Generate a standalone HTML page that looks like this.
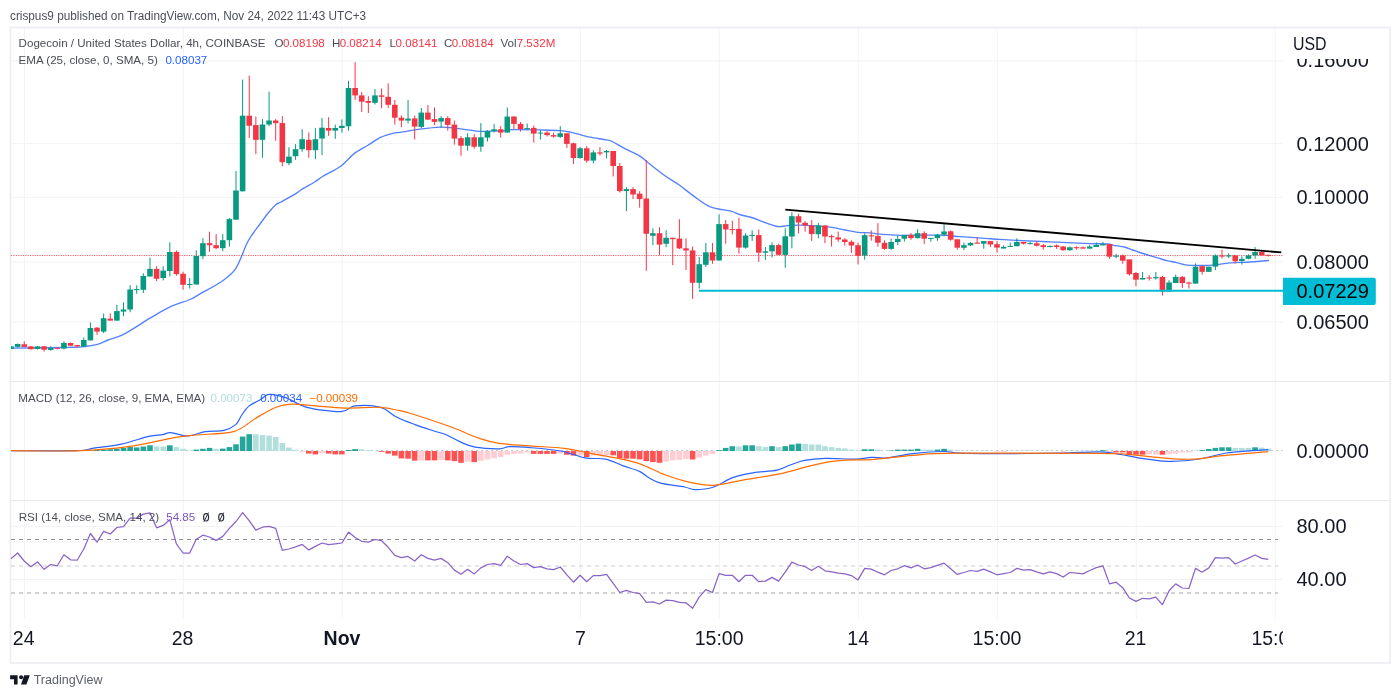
<!DOCTYPE html>
<html><head><meta charset="utf-8"><style>
html,body{margin:0;padding:0;background:#fff;width:1400px;height:698px;overflow:hidden}
body{position:relative;font-family:"Liberation Sans",sans-serif}
#tx{position:absolute;left:0;top:0;width:1400px;height:698px;will-change:transform}
</style></head><body>
<svg width="1400" height="698" viewBox="0 0 1400 698" style="position:absolute;left:0;top:0"><defs><clipPath id="cp"><rect x="11" y="28" width="1271.5" height="353"/></clipPath><clipPath id="cm"><rect x="11" y="382" width="1271.5" height="118"/></clipPath></defs><rect x="10.5" y="27.5" width="1379.5" height="635.5" fill="none" stroke="#eaecf1" stroke-width="1.5"/><line x1="24.535" y1="28" x2="24.535" y2="618.5" stroke="#f2f3f6" stroke-width="1"/><line x1="183.35500000000002" y1="28" x2="183.35500000000002" y2="618.5" stroke="#f2f3f6" stroke-width="1"/><line x1="342.175" y1="28" x2="342.175" y2="618.5" stroke="#f2f3f6" stroke-width="1"/><line x1="580.405" y1="28" x2="580.405" y2="618.5" stroke="#f2f3f6" stroke-width="1"/><line x1="719.3725" y1="28" x2="719.3725" y2="618.5" stroke="#f2f3f6" stroke-width="1"/><line x1="858.3399999999999" y1="28" x2="858.3399999999999" y2="618.5" stroke="#f2f3f6" stroke-width="1"/><line x1="997.3074999999999" y1="28" x2="997.3074999999999" y2="618.5" stroke="#f2f3f6" stroke-width="1"/><line x1="1136.2749999999999" y1="28" x2="1136.2749999999999" y2="618.5" stroke="#f2f3f6" stroke-width="1"/><line x1="1275.2424999999998" y1="28" x2="1275.2424999999998" y2="618.5" stroke="#f2f3f6" stroke-width="1"/><line x1="11" y1="61" x2="1282.5" y2="61" stroke="#f2f3f6" stroke-width="1"/><line x1="11" y1="143.6" x2="1282.5" y2="143.6" stroke="#f2f3f6" stroke-width="1"/><line x1="11" y1="197.3" x2="1282.5" y2="197.3" stroke="#f2f3f6" stroke-width="1"/><line x1="11" y1="261.9" x2="1282.5" y2="261.9" stroke="#f2f3f6" stroke-width="1"/><line x1="11" y1="322" x2="1282.5" y2="322" stroke="#f2f3f6" stroke-width="1"/><line x1="11" y1="526.5" x2="1282.5" y2="526.5" stroke="#f2f3f6" stroke-width="1"/><line x1="11" y1="579.5" x2="1282.5" y2="579.5" stroke="#f2f3f6" stroke-width="1"/><line x1="11" y1="381.5" x2="1389.5" y2="381.5" stroke="#e6e8ee" stroke-width="1.2"/><line x1="11" y1="500.5" x2="1389.5" y2="500.5" stroke="#e6e8ee" stroke-width="1.2"/><line x1="11" y1="255.5" x2="1282.5" y2="255.5" stroke="#f23645" stroke-width="1" stroke-dasharray="1.2 1.17" opacity="0.8"/><g clip-path="url(#cp)"><path d="M11.0,348.2 C20.5,348.1 56.8,347.5 68.0,347.3 C79.2,347.1 73.6,347.6 78.5,347.1 C83.4,346.6 92.5,345.5 97.4,344.3 C102.3,343.1 103.7,341.6 108.0,340.0 C112.3,338.4 116.0,338.3 123.0,334.7 C130.0,331.1 142.2,322.8 150.0,318.2 C157.8,313.6 163.3,310.0 170.0,306.9 C176.7,303.8 185.0,301.7 190.0,299.5 C195.0,297.3 194.7,296.9 200.0,293.8 C205.3,290.8 216.0,285.5 222.0,281.2 C228.0,276.9 231.7,274.9 236.0,268.2 C240.3,261.5 244.0,248.6 248.0,241.2 C252.0,233.8 256.5,228.9 260.0,224.0 C263.5,219.1 266.3,215.2 269.0,212.0 C271.7,208.8 274.2,206.1 276.0,204.5 C277.8,202.9 277.0,204.2 280.0,202.5 C283.0,200.8 290.5,196.8 294.2,194.6 C297.9,192.4 298.7,191.2 302.1,189.1 C305.5,187.0 311.3,184.1 314.7,182.0 C318.1,179.9 318.3,179.1 322.6,176.5 C326.9,173.9 335.4,170.0 340.7,166.2 C345.9,162.4 349.5,157.1 354.1,153.6 C358.7,150.1 363.8,147.8 368.3,145.0 C372.8,142.2 376.8,139.1 381.0,137.1 C385.2,135.1 390.4,133.9 393.6,133.1 C396.8,132.3 395.6,133.0 400.0,132.3 C404.4,131.7 413.3,130.1 420.0,129.2 C426.7,128.3 434.2,127.3 440.0,127.1 C445.8,126.9 450.0,127.6 455.0,128.1 C460.0,128.6 465.8,129.6 470.0,130.1 C474.2,130.6 474.2,131.2 480.0,131.3 C485.8,131.4 500.0,130.9 505.0,130.6 C510.0,130.3 504.2,129.7 510.0,129.6 C515.8,129.5 531.7,129.7 540.0,129.9 C548.3,130.1 555.0,130.2 560.0,130.6 C565.0,131.0 566.7,131.4 570.0,132.1 C573.3,132.8 576.7,133.8 580.0,134.6 C583.3,135.4 585.6,136.3 590.0,137.2 C594.4,138.1 602.6,139.1 606.3,139.8 C610.0,140.5 609.3,140.1 612.3,141.5 C615.3,142.9 619.8,146.0 624.4,148.4 C629.0,150.8 635.8,153.7 639.8,156.1 C643.8,158.5 644.4,159.8 648.4,163.0 C652.4,166.2 658.8,171.3 663.9,175.0 C669.0,178.7 674.4,181.6 679.3,185.0 C684.2,188.4 687.9,192.0 693.1,195.6 C698.3,199.2 704.0,204.2 710.3,206.8 C716.6,209.4 726.0,209.8 730.9,211.1 C735.8,212.4 735.8,213.3 739.5,214.5 C743.2,215.7 749.5,216.8 753.2,218.0 C756.9,219.2 757.8,220.0 761.8,221.4 C765.8,222.8 773.0,225.8 777.3,226.5 C781.6,227.2 783.8,225.9 787.6,225.7 C791.4,225.5 792.9,225.0 800.0,225.2 C807.1,225.4 822.5,226.3 830.0,227.1 C837.5,227.9 840.3,229.1 845.0,230.0 C849.7,230.9 853.8,231.8 858.0,232.3 C862.2,232.8 866.3,232.5 870.0,232.8 C873.7,233.1 875.0,233.8 880.0,234.2 C885.0,234.6 890.0,235.2 900.0,235.3 C910.0,235.5 930.0,234.9 940.0,235.1 C950.0,235.3 952.5,236.1 960.0,236.6 C967.5,237.1 978.3,237.8 985.0,238.3 C991.7,238.8 994.7,239.1 1000.0,239.4 C1005.3,239.8 1008.7,240.0 1017.0,240.4 C1025.3,240.8 1037.8,241.4 1050.0,241.9 C1062.2,242.4 1080.5,243.2 1090.0,243.6 C1099.5,243.9 1102.7,243.7 1107.0,244.0 C1111.3,244.3 1112.8,245.2 1115.7,245.7 C1118.6,246.2 1121.5,246.3 1124.3,247.0 C1127.1,247.7 1129.9,249.0 1132.8,250.0 C1135.7,251.0 1138.5,252.1 1141.4,253.0 C1144.3,253.9 1147.1,254.8 1150.0,255.6 C1152.9,256.4 1155.8,257.2 1158.6,258.1 C1161.4,259.0 1164.2,260.0 1167.1,260.7 C1169.9,261.4 1172.8,261.8 1175.7,262.4 C1178.6,263.0 1181.9,264.1 1184.3,264.6 C1186.7,265.1 1186.0,265.3 1190.3,265.4 C1194.6,265.5 1203.4,265.7 1210.0,265.3 C1216.6,264.9 1223.3,263.4 1230.0,262.9 C1236.7,262.3 1243.5,262.4 1250.0,262.0 C1256.5,261.6 1265.8,260.7 1269.0,260.4" fill="none" stroke="#2962ff" stroke-opacity="0.8" stroke-width="1.35" stroke-linejoin="round"/><rect x="10.50" y="346.4" width="1" height="2.6" fill="#089981"/><rect x="8.20" y="346.4" width="5.6" height="2.6" fill="#089981"/><rect x="17.12" y="343.5" width="1" height="4.0" fill="#089981"/><rect x="14.82" y="344.0" width="5.6" height="2.9" fill="#089981"/><rect x="23.73" y="341.3" width="1" height="5.7" fill="#f23645"/><rect x="21.43" y="344.3" width="5.6" height="2.6" fill="#f23645"/><rect x="30.35" y="346.0" width="1" height="3.5" fill="#f23645"/><rect x="28.05" y="346.4" width="5.6" height="2.8" fill="#f23645"/><rect x="36.97" y="346.0" width="1" height="3.5" fill="#089981"/><rect x="34.67" y="346.4" width="5.6" height="2.6" fill="#089981"/><rect x="43.59" y="346.0" width="1" height="5.6" fill="#f23645"/><rect x="41.29" y="346.3" width="5.6" height="3.4" fill="#f23645"/><rect x="50.20" y="346.4" width="1" height="4.3" fill="#089981"/><rect x="47.91" y="348.0" width="5.6" height="1.9" fill="#089981"/><rect x="56.82" y="347.5" width="1" height="2.0" fill="#f23645"/><rect x="54.52" y="347.8" width="5.6" height="1.0" fill="#f23645"/><rect x="63.44" y="341.3" width="1" height="8.1" fill="#089981"/><rect x="61.14" y="343.0" width="5.6" height="5.6" fill="#089981"/><rect x="70.06" y="342.5" width="1" height="3.5" fill="#f23645"/><rect x="67.76" y="343.0" width="5.6" height="2.7" fill="#f23645"/><rect x="76.67" y="344.8" width="1" height="2.9" fill="#f23645"/><rect x="74.38" y="345.1" width="5.6" height="1.3" fill="#f23645"/><rect x="83.29" y="337.4" width="1" height="9.1" fill="#089981"/><rect x="80.99" y="340.0" width="5.6" height="6.4" fill="#089981"/><rect x="89.91" y="322.4" width="1" height="18.1" fill="#089981"/><rect x="87.61" y="328.0" width="5.6" height="12.4" fill="#089981"/><rect x="96.53" y="327.0" width="1" height="7.8" fill="#f23645"/><rect x="94.23" y="327.7" width="5.6" height="3.9" fill="#f23645"/><rect x="103.14" y="313.5" width="1" height="19.6" fill="#089981"/><rect x="100.84" y="318.2" width="5.6" height="13.4" fill="#089981"/><rect x="109.76" y="313.5" width="1" height="7.1" fill="#f23645"/><rect x="107.46" y="318.7" width="5.6" height="1.9" fill="#f23645"/><rect x="116.38" y="304.8" width="1" height="15.8" fill="#089981"/><rect x="114.08" y="311.1" width="5.6" height="9.5" fill="#089981"/><rect x="123.00" y="302.4" width="1" height="13.9" fill="#089981"/><rect x="120.70" y="309.5" width="5.6" height="2.1" fill="#089981"/><rect x="129.62" y="285.1" width="1" height="27.1" fill="#089981"/><rect x="127.32" y="289.5" width="5.6" height="20.0" fill="#089981"/><rect x="136.23" y="285.4" width="1" height="8.4" fill="#089981"/><rect x="133.93" y="289.1" width="5.6" height="1.0" fill="#089981"/><rect x="142.85" y="273.3" width="1" height="19.7" fill="#089981"/><rect x="140.55" y="276.0" width="5.6" height="13.8" fill="#089981"/><rect x="149.47" y="257.6" width="1" height="18.9" fill="#089981"/><rect x="147.17" y="268.9" width="5.6" height="7.6" fill="#089981"/><rect x="156.08" y="266.2" width="1" height="15.0" fill="#f23645"/><rect x="153.78" y="268.9" width="5.6" height="9.9" fill="#f23645"/><rect x="162.70" y="266.2" width="1" height="14.2" fill="#089981"/><rect x="160.40" y="270.6" width="5.6" height="7.4" fill="#089981"/><rect x="169.32" y="242.3" width="1" height="34.2" fill="#089981"/><rect x="167.02" y="252.0" width="5.6" height="19.0" fill="#089981"/><rect x="175.94" y="250.5" width="1" height="25.2" fill="#f23645"/><rect x="173.64" y="252.0" width="5.6" height="22.1" fill="#f23645"/><rect x="182.56" y="271.7" width="1" height="18.1" fill="#f23645"/><rect x="180.25" y="273.8" width="5.6" height="11.0" fill="#f23645"/><rect x="189.17" y="278.0" width="1" height="10.6" fill="#089981"/><rect x="186.87" y="284.0" width="5.6" height="1.0" fill="#089981"/><rect x="195.79" y="250.3" width="1" height="34.2" fill="#089981"/><rect x="193.49" y="256.0" width="5.6" height="28.5" fill="#089981"/><rect x="202.41" y="238.2" width="1" height="21.0" fill="#089981"/><rect x="200.11" y="243.2" width="5.6" height="13.0" fill="#089981"/><rect x="209.02" y="231.7" width="1" height="20.1" fill="#f23645"/><rect x="206.72" y="243.2" width="5.6" height="2.0" fill="#f23645"/><rect x="215.64" y="234.1" width="1" height="15.1" fill="#f23645"/><rect x="213.34" y="245.2" width="5.6" height="3.0" fill="#f23645"/><rect x="222.26" y="234.1" width="1" height="17.1" fill="#089981"/><rect x="219.96" y="240.2" width="5.6" height="8.0" fill="#089981"/><rect x="228.88" y="218.1" width="1" height="28.5" fill="#089981"/><rect x="226.58" y="219.1" width="5.6" height="21.1" fill="#089981"/><rect x="235.50" y="171.0" width="1" height="48.7" fill="#089981"/><rect x="233.19" y="190.5" width="5.6" height="29.2" fill="#089981"/><rect x="242.11" y="79.6" width="1" height="111.9" fill="#089981"/><rect x="239.81" y="115.7" width="5.6" height="75.6" fill="#089981"/><rect x="248.73" y="75.6" width="1" height="62.6" fill="#f23645"/><rect x="246.43" y="115.7" width="5.6" height="10.0" fill="#f23645"/><rect x="255.35" y="116.5" width="1" height="37.7" fill="#f23645"/><rect x="253.05" y="125.1" width="5.6" height="14.7" fill="#f23645"/><rect x="261.96" y="119.1" width="1" height="38.7" fill="#089981"/><rect x="259.66" y="124.5" width="5.6" height="15.3" fill="#089981"/><rect x="268.58" y="91.7" width="1" height="34.4" fill="#089981"/><rect x="266.28" y="120.5" width="5.6" height="4.0" fill="#089981"/><rect x="275.20" y="119.1" width="1" height="21.5" fill="#f23645"/><rect x="272.90" y="120.5" width="5.6" height="2.6" fill="#f23645"/><rect x="281.82" y="116.1" width="1" height="50.1" fill="#f23645"/><rect x="279.52" y="123.1" width="5.6" height="39.1" fill="#f23645"/><rect x="288.44" y="147.2" width="1" height="18.0" fill="#089981"/><rect x="286.13" y="156.6" width="5.6" height="6.6" fill="#089981"/><rect x="295.05" y="144.2" width="1" height="15.6" fill="#089981"/><rect x="292.75" y="149.2" width="5.6" height="7.0" fill="#089981"/><rect x="301.67" y="129.1" width="1" height="22.7" fill="#089981"/><rect x="299.37" y="139.2" width="5.6" height="10.0" fill="#089981"/><rect x="308.29" y="132.5" width="1" height="25.3" fill="#f23645"/><rect x="305.99" y="139.8" width="5.6" height="10.4" fill="#f23645"/><rect x="314.90" y="128.1" width="1" height="31.1" fill="#089981"/><rect x="312.60" y="139.2" width="5.6" height="11.0" fill="#089981"/><rect x="321.52" y="118.1" width="1" height="37.0" fill="#089981"/><rect x="319.22" y="127.7" width="5.6" height="10.8" fill="#089981"/><rect x="328.14" y="117.2" width="1" height="18.6" fill="#f23645"/><rect x="325.84" y="128.0" width="5.6" height="2.6" fill="#f23645"/><rect x="334.76" y="124.6" width="1" height="14.2" fill="#089981"/><rect x="332.46" y="128.0" width="5.6" height="2.6" fill="#089981"/><rect x="341.38" y="119.4" width="1" height="13.3" fill="#089981"/><rect x="339.07" y="125.8" width="5.6" height="2.2" fill="#089981"/><rect x="347.99" y="80.8" width="1" height="49.8" fill="#089981"/><rect x="345.69" y="88.0" width="5.6" height="38.3" fill="#089981"/><rect x="354.61" y="62.2" width="1" height="37.8" fill="#f23645"/><rect x="352.31" y="88.0" width="5.6" height="7.4" fill="#f23645"/><rect x="361.23" y="91.9" width="1" height="20.1" fill="#f23645"/><rect x="358.93" y="95.4" width="5.6" height="6.3" fill="#f23645"/><rect x="367.84" y="96.2" width="1" height="16.8" fill="#f23645"/><rect x="365.54" y="101.0" width="5.6" height="1.8" fill="#f23645"/><rect x="374.46" y="89.0" width="1" height="15.5" fill="#089981"/><rect x="372.16" y="95.4" width="5.6" height="7.4" fill="#089981"/><rect x="381.08" y="88.5" width="1" height="19.8" fill="#f23645"/><rect x="378.78" y="95.4" width="5.6" height="1.4" fill="#f23645"/><rect x="387.70" y="83.4" width="1" height="24.5" fill="#f23645"/><rect x="385.40" y="96.8" width="5.6" height="8.0" fill="#f23645"/><rect x="394.31" y="100.0" width="1" height="24.6" fill="#f23645"/><rect x="392.01" y="104.8" width="5.6" height="12.9" fill="#f23645"/><rect x="400.93" y="115.5" width="1" height="11.7" fill="#f23645"/><rect x="398.63" y="117.7" width="5.6" height="2.9" fill="#f23645"/><rect x="407.55" y="100.0" width="1" height="23.4" fill="#089981"/><rect x="405.25" y="118.6" width="5.6" height="2.0" fill="#089981"/><rect x="414.17" y="115.6" width="1" height="23.8" fill="#f23645"/><rect x="411.87" y="118.4" width="5.6" height="8.2" fill="#f23645"/><rect x="420.78" y="108.0" width="1" height="20.1" fill="#089981"/><rect x="418.48" y="112.6" width="5.6" height="14.3" fill="#089981"/><rect x="427.40" y="105.0" width="1" height="15.1" fill="#f23645"/><rect x="425.10" y="112.6" width="5.6" height="7.0" fill="#f23645"/><rect x="434.02" y="107.5" width="1" height="17.6" fill="#f23645"/><rect x="431.72" y="119.1" width="5.6" height="2.8" fill="#f23645"/><rect x="440.64" y="116.1" width="1" height="12.0" fill="#089981"/><rect x="438.34" y="118.1" width="5.6" height="3.5" fill="#089981"/><rect x="447.25" y="116.1" width="1" height="14.5" fill="#f23645"/><rect x="444.95" y="118.1" width="5.6" height="6.8" fill="#f23645"/><rect x="453.87" y="120.6" width="1" height="24.0" fill="#f23645"/><rect x="451.57" y="124.6" width="5.6" height="14.0" fill="#f23645"/><rect x="460.49" y="136.1" width="1" height="19.6" fill="#f23645"/><rect x="458.19" y="138.1" width="5.6" height="7.6" fill="#f23645"/><rect x="467.11" y="133.1" width="1" height="17.6" fill="#089981"/><rect x="464.81" y="137.3" width="5.6" height="8.4" fill="#089981"/><rect x="473.72" y="134.1" width="1" height="14.6" fill="#f23645"/><rect x="471.42" y="137.3" width="5.6" height="9.4" fill="#f23645"/><rect x="480.34" y="123.1" width="1" height="28.6" fill="#089981"/><rect x="478.04" y="137.3" width="5.6" height="9.4" fill="#089981"/><rect x="486.96" y="130.1" width="1" height="11.5" fill="#089981"/><rect x="484.66" y="130.9" width="5.6" height="6.7" fill="#089981"/><rect x="493.58" y="123.9" width="1" height="8.7" fill="#089981"/><rect x="491.28" y="129.3" width="5.6" height="1.8" fill="#089981"/><rect x="500.19" y="126.1" width="1" height="11.5" fill="#f23645"/><rect x="497.89" y="129.3" width="5.6" height="3.3" fill="#f23645"/><rect x="506.81" y="107.5" width="1" height="25.1" fill="#089981"/><rect x="504.51" y="116.6" width="5.6" height="16.0" fill="#089981"/><rect x="513.43" y="116.5" width="1" height="12.6" fill="#f23645"/><rect x="511.13" y="116.5" width="5.6" height="7.4" fill="#f23645"/><rect x="520.05" y="122.1" width="1" height="9.5" fill="#f23645"/><rect x="517.75" y="123.9" width="5.6" height="5.2" fill="#f23645"/><rect x="526.66" y="123.6" width="1" height="5.7" fill="#089981"/><rect x="524.37" y="128.1" width="5.6" height="1.2" fill="#089981"/><rect x="533.28" y="125.6" width="1" height="17.0" fill="#f23645"/><rect x="530.98" y="127.9" width="5.6" height="5.7" fill="#f23645"/><rect x="539.90" y="130.1" width="1" height="9.5" fill="#089981"/><rect x="537.60" y="132.6" width="5.6" height="1.0" fill="#089981"/><rect x="546.52" y="131.1" width="1" height="5.5" fill="#f23645"/><rect x="544.22" y="132.6" width="5.6" height="2.5" fill="#f23645"/><rect x="553.13" y="132.6" width="1" height="5.0" fill="#f23645"/><rect x="550.84" y="135.1" width="5.6" height="1.5" fill="#f23645"/><rect x="559.75" y="126.1" width="1" height="11.8" fill="#089981"/><rect x="557.45" y="133.3" width="5.6" height="3.6" fill="#089981"/><rect x="566.37" y="133.3" width="1" height="14.8" fill="#f23645"/><rect x="564.07" y="133.3" width="5.6" height="10.6" fill="#f23645"/><rect x="572.99" y="142.6" width="1" height="21.4" fill="#f23645"/><rect x="570.69" y="143.3" width="5.6" height="14.7" fill="#f23645"/><rect x="579.61" y="146.9" width="1" height="11.8" fill="#089981"/><rect x="577.31" y="148.3" width="5.6" height="9.7" fill="#089981"/><rect x="586.22" y="146.1" width="1" height="16.6" fill="#f23645"/><rect x="583.92" y="148.3" width="5.6" height="12.4" fill="#f23645"/><rect x="592.84" y="150.2" width="1" height="13.2" fill="#089981"/><rect x="590.54" y="152.4" width="5.6" height="8.2" fill="#089981"/><rect x="599.46" y="147.0" width="1" height="8.6" fill="#f23645"/><rect x="597.16" y="152.4" width="5.6" height="1.2" fill="#f23645"/><rect x="606.07" y="150.0" width="1" height="8.4" fill="#089981"/><rect x="603.77" y="151.0" width="5.6" height="1.4" fill="#089981"/><rect x="612.69" y="151.0" width="1" height="25.5" fill="#f23645"/><rect x="610.39" y="151.0" width="5.6" height="15.0" fill="#f23645"/><rect x="619.31" y="163.0" width="1" height="29.5" fill="#f23645"/><rect x="617.01" y="166.0" width="5.6" height="25.1" fill="#f23645"/><rect x="625.93" y="187.1" width="1" height="24.0" fill="#089981"/><rect x="623.63" y="189.1" width="5.6" height="2.0" fill="#089981"/><rect x="632.54" y="187.1" width="1" height="12.0" fill="#f23645"/><rect x="630.25" y="189.1" width="5.6" height="5.4" fill="#f23645"/><rect x="639.16" y="191.1" width="1" height="16.6" fill="#f23645"/><rect x="636.86" y="193.7" width="5.6" height="5.4" fill="#f23645"/><rect x="645.78" y="160.0" width="1" height="110.7" fill="#f23645"/><rect x="643.48" y="198.5" width="5.6" height="35.3" fill="#f23645"/><rect x="652.40" y="228.2" width="1" height="17.0" fill="#089981"/><rect x="650.10" y="233.2" width="5.6" height="2.6" fill="#089981"/><rect x="659.01" y="227.2" width="1" height="28.0" fill="#f23645"/><rect x="656.72" y="233.2" width="5.6" height="11.4" fill="#f23645"/><rect x="665.63" y="230.2" width="1" height="17.0" fill="#089981"/><rect x="663.33" y="237.8" width="5.6" height="6.0" fill="#089981"/><rect x="672.25" y="237.8" width="1" height="27.4" fill="#f23645"/><rect x="669.95" y="237.8" width="5.6" height="1.4" fill="#f23645"/><rect x="678.87" y="219.2" width="1" height="30.0" fill="#f23645"/><rect x="676.57" y="238.6" width="5.6" height="9.8" fill="#f23645"/><rect x="685.49" y="238.3" width="1" height="31.7" fill="#f23645"/><rect x="683.19" y="248.3" width="5.6" height="2.2" fill="#f23645"/><rect x="692.10" y="246.6" width="1" height="52.3" fill="#f23645"/><rect x="689.80" y="250.4" width="5.6" height="32.4" fill="#f23645"/><rect x="698.72" y="257.0" width="1" height="31.5" fill="#089981"/><rect x="696.42" y="264.2" width="5.6" height="18.6" fill="#089981"/><rect x="705.34" y="243.0" width="1" height="24.0" fill="#089981"/><rect x="703.04" y="252.3" width="5.6" height="12.5" fill="#089981"/><rect x="711.95" y="243.0" width="1" height="20.8" fill="#f23645"/><rect x="709.65" y="252.3" width="5.6" height="8.2" fill="#f23645"/><rect x="718.57" y="214.3" width="1" height="46.2" fill="#089981"/><rect x="716.27" y="224.1" width="5.6" height="36.4" fill="#089981"/><rect x="725.19" y="220.0" width="1" height="23.7" fill="#f23645"/><rect x="722.89" y="224.1" width="5.6" height="5.3" fill="#f23645"/><rect x="731.81" y="220.8" width="1" height="13.6" fill="#f23645"/><rect x="729.51" y="229.1" width="5.6" height="1.0" fill="#f23645"/><rect x="738.42" y="217.9" width="1" height="35.8" fill="#f23645"/><rect x="736.12" y="228.9" width="5.6" height="18.7" fill="#f23645"/><rect x="745.04" y="233.2" width="1" height="15.5" fill="#089981"/><rect x="742.74" y="235.5" width="5.6" height="12.1" fill="#089981"/><rect x="751.66" y="230.4" width="1" height="10.4" fill="#089981"/><rect x="749.36" y="234.9" width="5.6" height="1.0" fill="#089981"/><rect x="758.28" y="229.4" width="1" height="32.5" fill="#f23645"/><rect x="755.98" y="235.1" width="5.6" height="17.6" fill="#f23645"/><rect x="764.89" y="247.0" width="1" height="12.9" fill="#089981"/><rect x="762.60" y="251.3" width="5.6" height="1.4" fill="#089981"/><rect x="771.51" y="242.5" width="1" height="14.9" fill="#089981"/><rect x="769.21" y="245.1" width="5.6" height="6.2" fill="#089981"/><rect x="778.13" y="243.7" width="1" height="11.1" fill="#f23645"/><rect x="775.83" y="245.1" width="5.6" height="9.7" fill="#f23645"/><rect x="784.75" y="228.3" width="1" height="39.5" fill="#089981"/><rect x="782.45" y="236.3" width="5.6" height="18.6" fill="#089981"/><rect x="791.37" y="212.2" width="1" height="36.1" fill="#089981"/><rect x="789.07" y="216.2" width="5.6" height="20.3" fill="#089981"/><rect x="797.98" y="213.9" width="1" height="19.5" fill="#f23645"/><rect x="795.68" y="216.2" width="5.6" height="6.3" fill="#f23645"/><rect x="804.60" y="221.1" width="1" height="10.6" fill="#f23645"/><rect x="802.30" y="222.8" width="5.6" height="2.6" fill="#f23645"/><rect x="811.22" y="220.0" width="1" height="20.9" fill="#f23645"/><rect x="808.92" y="225.4" width="5.6" height="8.6" fill="#f23645"/><rect x="817.83" y="223.1" width="1" height="15.2" fill="#089981"/><rect x="815.53" y="225.4" width="5.6" height="8.8" fill="#089981"/><rect x="824.45" y="225.4" width="1" height="17.8" fill="#f23645"/><rect x="822.15" y="225.4" width="5.6" height="11.1" fill="#f23645"/><rect x="831.07" y="234.6" width="1" height="12.0" fill="#f23645"/><rect x="828.77" y="236.1" width="5.6" height="1.1" fill="#f23645"/><rect x="837.69" y="231.5" width="1" height="10.3" fill="#f23645"/><rect x="835.39" y="237.4" width="5.6" height="2.1" fill="#f23645"/><rect x="844.30" y="238.0" width="1" height="7.5" fill="#f23645"/><rect x="842.00" y="239.5" width="5.6" height="2.5" fill="#f23645"/><rect x="850.92" y="240.3" width="1" height="12.6" fill="#f23645"/><rect x="848.62" y="241.8" width="5.6" height="3.7" fill="#f23645"/><rect x="857.54" y="242.6" width="1" height="21.8" fill="#f23645"/><rect x="855.24" y="245.2" width="5.6" height="10.6" fill="#f23645"/><rect x="864.16" y="233.2" width="1" height="26.5" fill="#089981"/><rect x="861.86" y="235.2" width="5.6" height="20.4" fill="#089981"/><rect x="870.77" y="230.4" width="1" height="10.3" fill="#f23645"/><rect x="868.48" y="235.3" width="5.6" height="1.1" fill="#f23645"/><rect x="877.39" y="223.1" width="1" height="23.6" fill="#f23645"/><rect x="875.09" y="236.1" width="5.6" height="6.6" fill="#f23645"/><rect x="884.01" y="240.3" width="1" height="9.4" fill="#f23645"/><rect x="881.71" y="242.8" width="5.6" height="6.1" fill="#f23645"/><rect x="890.63" y="238.5" width="1" height="11.2" fill="#089981"/><rect x="888.33" y="242.0" width="5.6" height="6.9" fill="#089981"/><rect x="897.25" y="235.5" width="1" height="9.5" fill="#089981"/><rect x="894.95" y="239.0" width="5.6" height="3.0" fill="#089981"/><rect x="903.86" y="234.9" width="1" height="6.6" fill="#089981"/><rect x="901.56" y="234.9" width="5.6" height="3.8" fill="#089981"/><rect x="910.48" y="233.0" width="1" height="6.8" fill="#f23645"/><rect x="908.18" y="234.9" width="5.6" height="3.2" fill="#f23645"/><rect x="917.10" y="229.2" width="1" height="9.5" fill="#089981"/><rect x="914.80" y="233.2" width="5.6" height="4.9" fill="#089981"/><rect x="923.71" y="231.2" width="1" height="12.7" fill="#f23645"/><rect x="921.41" y="233.2" width="5.6" height="5.5" fill="#f23645"/><rect x="930.33" y="238.1" width="1" height="3.4" fill="#089981"/><rect x="928.03" y="237.9" width="5.6" height="1.0" fill="#089981"/><rect x="936.95" y="233.8" width="1" height="6.9" fill="#089981"/><rect x="934.65" y="234.7" width="5.6" height="3.4" fill="#089981"/><rect x="943.57" y="224.1" width="1" height="12.3" fill="#089981"/><rect x="941.27" y="231.5" width="5.6" height="3.2" fill="#089981"/><rect x="950.18" y="230.4" width="1" height="10.3" fill="#f23645"/><rect x="947.88" y="231.3" width="5.6" height="8.4" fill="#f23645"/><rect x="956.80" y="239.3" width="1" height="10.4" fill="#f23645"/><rect x="954.50" y="239.3" width="5.6" height="8.4" fill="#f23645"/><rect x="963.42" y="242.6" width="1" height="7.6" fill="#089981"/><rect x="961.12" y="245.2" width="5.6" height="2.6" fill="#089981"/><rect x="970.04" y="241.9" width="1" height="4.3" fill="#089981"/><rect x="967.74" y="242.9" width="5.6" height="2.5" fill="#089981"/><rect x="976.65" y="237.2" width="1" height="6.5" fill="#f23645"/><rect x="974.36" y="242.6" width="5.6" height="1.1" fill="#f23645"/><rect x="983.27" y="241.1" width="1" height="7.6" fill="#089981"/><rect x="980.97" y="241.1" width="5.6" height="2.6" fill="#089981"/><rect x="989.89" y="241.1" width="1" height="6.0" fill="#f23645"/><rect x="987.59" y="241.1" width="5.6" height="3.4" fill="#f23645"/><rect x="996.51" y="241.1" width="1" height="11.5" fill="#f23645"/><rect x="994.21" y="244.2" width="5.6" height="3.4" fill="#f23645"/><rect x="1003.12" y="245.4" width="1" height="3.1" fill="#089981"/><rect x="1000.83" y="246.9" width="5.6" height="1.6" fill="#089981"/><rect x="1009.74" y="242.6" width="1" height="4.3" fill="#089981"/><rect x="1007.44" y="245.9" width="5.6" height="1.0" fill="#089981"/><rect x="1016.36" y="238.3" width="1" height="7.9" fill="#089981"/><rect x="1014.06" y="241.9" width="5.6" height="4.3" fill="#089981"/><rect x="1022.98" y="241.9" width="1" height="2.6" fill="#f23645"/><rect x="1020.68" y="241.9" width="5.6" height="1.8" fill="#f23645"/><rect x="1029.59" y="241.5" width="1" height="3.0" fill="#089981"/><rect x="1027.29" y="243.1" width="5.6" height="1.0" fill="#089981"/><rect x="1036.21" y="241.1" width="1" height="5.4" fill="#f23645"/><rect x="1033.91" y="243.3" width="5.6" height="2.4" fill="#f23645"/><rect x="1042.83" y="244.0" width="1" height="5.7" fill="#f23645"/><rect x="1040.53" y="245.2" width="5.6" height="1.9" fill="#f23645"/><rect x="1049.45" y="245.5" width="1" height="2.0" fill="#089981"/><rect x="1047.15" y="245.9" width="5.6" height="1.1" fill="#089981"/><rect x="1056.07" y="244.5" width="1" height="4.3" fill="#f23645"/><rect x="1053.77" y="245.4" width="5.6" height="1.6" fill="#f23645"/><rect x="1062.68" y="246.0" width="1" height="4.8" fill="#f23645"/><rect x="1060.38" y="246.5" width="5.6" height="3.7" fill="#f23645"/><rect x="1069.30" y="246.5" width="1" height="4.5" fill="#089981"/><rect x="1067.00" y="247.3" width="5.6" height="2.9" fill="#089981"/><rect x="1075.92" y="246.3" width="1" height="3.4" fill="#f23645"/><rect x="1073.62" y="247.2" width="5.6" height="1.0" fill="#f23645"/><rect x="1082.53" y="246.5" width="1" height="2.1" fill="#f23645"/><rect x="1080.23" y="247.3" width="5.6" height="1.3" fill="#f23645"/><rect x="1089.15" y="245.2" width="1" height="3.4" fill="#089981"/><rect x="1086.85" y="246.5" width="5.6" height="2.1" fill="#089981"/><rect x="1095.77" y="242.4" width="1" height="4.6" fill="#089981"/><rect x="1093.47" y="244.9" width="5.6" height="2.1" fill="#089981"/><rect x="1102.39" y="242.0" width="1" height="3.4" fill="#089981"/><rect x="1100.09" y="244.1" width="5.6" height="1.3" fill="#089981"/><rect x="1109.00" y="244.1" width="1" height="14.7" fill="#f23645"/><rect x="1106.70" y="244.1" width="5.6" height="12.6" fill="#f23645"/><rect x="1115.62" y="253.8" width="1" height="4.5" fill="#089981"/><rect x="1113.32" y="255.6" width="5.6" height="1.1" fill="#089981"/><rect x="1122.24" y="254.5" width="1" height="9.2" fill="#f23645"/><rect x="1119.94" y="255.4" width="5.6" height="5.3" fill="#f23645"/><rect x="1128.86" y="259.4" width="1" height="16.1" fill="#f23645"/><rect x="1126.56" y="259.4" width="5.6" height="14.8" fill="#f23645"/><rect x="1135.47" y="272.0" width="1" height="14.2" fill="#f23645"/><rect x="1133.17" y="273.0" width="5.6" height="6.7" fill="#f23645"/><rect x="1142.09" y="272.0" width="1" height="7.5" fill="#089981"/><rect x="1139.79" y="278.0" width="5.6" height="1.5" fill="#089981"/><rect x="1148.71" y="275.2" width="1" height="5.4" fill="#f23645"/><rect x="1146.41" y="277.5" width="5.6" height="1.0" fill="#f23645"/><rect x="1155.33" y="272.0" width="1" height="7.7" fill="#089981"/><rect x="1153.03" y="277.1" width="5.6" height="1.2" fill="#089981"/><rect x="1161.94" y="276.0" width="1" height="19.5" fill="#f23645"/><rect x="1159.64" y="276.9" width="5.6" height="14.7" fill="#f23645"/><rect x="1168.56" y="280.2" width="1" height="11.4" fill="#089981"/><rect x="1166.26" y="282.5" width="5.6" height="9.1" fill="#089981"/><rect x="1175.18" y="274.6" width="1" height="8.4" fill="#089981"/><rect x="1172.88" y="276.9" width="5.6" height="6.1" fill="#089981"/><rect x="1181.80" y="276.0" width="1" height="11.9" fill="#f23645"/><rect x="1179.50" y="276.9" width="5.6" height="6.1" fill="#f23645"/><rect x="1188.41" y="281.6" width="1" height="6.9" fill="#f23645"/><rect x="1186.12" y="282.5" width="5.6" height="1.1" fill="#f23645"/><rect x="1195.03" y="263.4" width="1" height="20.2" fill="#089981"/><rect x="1192.73" y="266.7" width="5.6" height="16.9" fill="#089981"/><rect x="1201.65" y="265.3" width="1" height="9.3" fill="#f23645"/><rect x="1199.35" y="266.2" width="5.6" height="5.6" fill="#f23645"/><rect x="1208.27" y="266.7" width="1" height="5.1" fill="#089981"/><rect x="1205.97" y="266.7" width="5.6" height="5.1" fill="#089981"/><rect x="1214.88" y="254.4" width="1" height="15.8" fill="#089981"/><rect x="1212.59" y="255.4" width="5.6" height="11.2" fill="#089981"/><rect x="1221.50" y="249.8" width="1" height="8.6" fill="#f23645"/><rect x="1219.20" y="255.4" width="5.6" height="1.2" fill="#f23645"/><rect x="1228.12" y="253.3" width="1" height="4.8" fill="#089981"/><rect x="1225.82" y="255.4" width="5.6" height="1.1" fill="#089981"/><rect x="1234.74" y="255.4" width="1" height="8.2" fill="#f23645"/><rect x="1232.44" y="255.4" width="5.6" height="5.8" fill="#f23645"/><rect x="1241.36" y="256.2" width="1" height="8.4" fill="#089981"/><rect x="1239.06" y="258.9" width="5.6" height="2.1" fill="#089981"/><rect x="1247.97" y="254.3" width="1" height="5.0" fill="#089981"/><rect x="1245.67" y="255.4" width="5.6" height="3.4" fill="#089981"/><rect x="1254.59" y="247.1" width="1" height="11.7" fill="#089981"/><rect x="1252.29" y="252.0" width="5.6" height="3.4" fill="#089981"/><rect x="1261.21" y="251.1" width="1" height="4.3" fill="#f23645"/><rect x="1258.91" y="252.0" width="5.6" height="3.4" fill="#f23645"/><rect x="1267.83" y="254.9" width="1" height="1.6" fill="#f23645"/><rect x="1265.53" y="254.8" width="5.6" height="1.0" fill="#f23645"/></g><line x1="785.3" y1="209.6" x2="1281.3" y2="252.4" stroke="#000" stroke-width="1.9"/><line x1="699" y1="290.8" x2="1283" y2="290.8" stroke="#00bcd4" stroke-width="2"/><line x1="11" y1="450.5" x2="1282.5" y2="450.5" stroke="#c5c7cd" stroke-width="1" stroke-dasharray="2 3"/><rect x="74.38" y="450.7" width="5.6" height="0.3" fill="#26a69a"/><rect x="80.99" y="450.5" width="5.6" height="0.5" fill="#26a69a"/><rect x="87.61" y="450.1" width="5.6" height="0.9" fill="#26a69a"/><rect x="94.23" y="449.8" width="5.6" height="1.2" fill="#26a69a"/><rect x="100.84" y="449.8" width="5.6" height="1.2" fill="#26a69a"/><rect x="107.46" y="449.3" width="5.6" height="1.7" fill="#26a69a"/><rect x="114.08" y="448.8" width="5.6" height="2.2" fill="#26a69a"/><rect x="120.70" y="447.9" width="5.6" height="3.1" fill="#26a69a"/><rect x="127.32" y="447.0" width="5.6" height="4.0" fill="#26a69a"/><rect x="133.93" y="447.4" width="5.6" height="3.6" fill="#26a69a"/><rect x="140.55" y="446.5" width="5.6" height="4.5" fill="#26a69a"/><rect x="147.17" y="445.3" width="5.6" height="5.7" fill="#26a69a"/><rect x="153.78" y="446.5" width="5.6" height="4.5" fill="#b2dfdb"/><rect x="160.40" y="446.5" width="5.6" height="4.5" fill="#b2dfdb"/><rect x="167.02" y="445.3" width="5.6" height="5.7" fill="#26a69a"/><rect x="173.64" y="447.1" width="5.6" height="3.9" fill="#b2dfdb"/><rect x="180.25" y="448.8" width="5.6" height="2.2" fill="#b2dfdb"/><rect x="186.87" y="450.5" width="5.6" height="0.5" fill="#b2dfdb"/><rect x="193.49" y="449.6" width="5.6" height="1.4" fill="#26a69a"/><rect x="200.11" y="448.8" width="5.6" height="2.2" fill="#26a69a"/><rect x="206.72" y="447.9" width="5.6" height="3.1" fill="#26a69a"/><rect x="213.34" y="448.8" width="5.6" height="2.2" fill="#b2dfdb"/><rect x="219.96" y="448.6" width="5.6" height="2.4" fill="#26a69a"/><rect x="226.58" y="447.1" width="5.6" height="3.9" fill="#26a69a"/><rect x="233.19" y="444.3" width="5.6" height="6.7" fill="#26a69a"/><rect x="239.81" y="436.6" width="5.6" height="14.4" fill="#26a69a"/><rect x="246.43" y="434.2" width="5.6" height="16.8" fill="#26a69a"/><rect x="253.05" y="434.2" width="5.6" height="16.8" fill="#b2dfdb"/><rect x="259.66" y="435.1" width="5.6" height="15.9" fill="#b2dfdb"/><rect x="266.28" y="435.6" width="5.6" height="15.4" fill="#b2dfdb"/><rect x="272.90" y="437.0" width="5.6" height="14.0" fill="#b2dfdb"/><rect x="279.52" y="443.0" width="5.6" height="8.0" fill="#b2dfdb"/><rect x="286.13" y="447.6" width="5.6" height="3.4" fill="#b2dfdb"/><rect x="292.75" y="449.8" width="5.6" height="1.2" fill="#b2dfdb"/><rect x="299.37" y="451.0" width="5.6" height="0.8" fill="#ffcdd2"/><rect x="305.99" y="451.0" width="5.6" height="2.6" fill="#ff5252"/><rect x="312.60" y="451.0" width="5.6" height="3.4" fill="#ff5252"/><rect x="319.22" y="451.0" width="5.6" height="2.2" fill="#ffcdd2"/><rect x="325.84" y="451.0" width="5.6" height="2.6" fill="#ff5252"/><rect x="332.46" y="451.0" width="5.6" height="3.4" fill="#ff5252"/><rect x="339.07" y="451.0" width="5.6" height="3.4" fill="#ff5252"/><rect x="345.69" y="450.0" width="5.6" height="1.0" fill="#26a69a"/><rect x="352.31" y="449.1" width="5.6" height="1.9" fill="#26a69a"/><rect x="358.93" y="449.3" width="5.6" height="1.7" fill="#b2dfdb"/><rect x="365.54" y="450.2" width="5.6" height="0.8" fill="#b2dfdb"/><rect x="372.16" y="450.7" width="5.6" height="0.3" fill="#b2dfdb"/><rect x="378.78" y="451.0" width="5.6" height="0.8" fill="#ff5252"/><rect x="385.40" y="451.0" width="5.6" height="2.6" fill="#ff5252"/><rect x="392.01" y="451.0" width="5.6" height="4.6" fill="#ff5252"/><rect x="398.63" y="451.0" width="5.6" height="7.4" fill="#ff5252"/><rect x="405.25" y="451.0" width="5.6" height="7.7" fill="#ff5252"/><rect x="411.87" y="451.0" width="5.6" height="9.6" fill="#ff5252"/><rect x="418.48" y="451.0" width="5.6" height="9.4" fill="#ffcdd2"/><rect x="425.10" y="451.0" width="5.6" height="9.4" fill="#ff5252"/><rect x="431.72" y="451.0" width="5.6" height="9.4" fill="#ff5252"/><rect x="438.34" y="451.0" width="5.6" height="9.1" fill="#ffcdd2"/><rect x="444.95" y="451.0" width="5.6" height="9.4" fill="#ff5252"/><rect x="451.57" y="451.0" width="5.6" height="10.1" fill="#ff5252"/><rect x="458.19" y="451.0" width="5.6" height="11.8" fill="#ff5252"/><rect x="464.81" y="451.0" width="5.6" height="10.6" fill="#ffcdd2"/><rect x="471.42" y="451.0" width="5.6" height="11.1" fill="#ff5252"/><rect x="478.04" y="451.0" width="5.6" height="9.8" fill="#ffcdd2"/><rect x="484.66" y="451.0" width="5.6" height="8.4" fill="#ffcdd2"/><rect x="491.28" y="451.0" width="5.6" height="7.2" fill="#ffcdd2"/><rect x="497.89" y="451.0" width="5.6" height="6.0" fill="#ffcdd2"/><rect x="504.51" y="451.0" width="5.6" height="3.8" fill="#ffcdd2"/><rect x="511.13" y="451.0" width="5.6" height="2.9" fill="#ffcdd2"/><rect x="517.75" y="451.0" width="5.6" height="2.6" fill="#ffcdd2"/><rect x="524.37" y="451.0" width="5.6" height="1.5" fill="#ffcdd2"/><rect x="530.98" y="451.0" width="5.6" height="2.9" fill="#ff5252"/><rect x="537.60" y="451.0" width="5.6" height="2.9" fill="#ff5252"/><rect x="544.22" y="451.0" width="5.6" height="2.9" fill="#ff5252"/><rect x="550.84" y="451.0" width="5.6" height="2.9" fill="#ff5252"/><rect x="557.45" y="451.0" width="5.6" height="2.6" fill="#ffcdd2"/><rect x="564.07" y="451.0" width="5.6" height="3.8" fill="#ff5252"/><rect x="570.69" y="451.0" width="5.6" height="4.6" fill="#ff5252"/><rect x="577.31" y="451.0" width="5.6" height="4.6" fill="#ffcdd2"/><rect x="583.92" y="451.0" width="5.6" height="6.0" fill="#ff5252"/><rect x="590.54" y="451.0" width="5.6" height="4.6" fill="#ffcdd2"/><rect x="597.16" y="451.0" width="5.6" height="4.3" fill="#ffcdd2"/><rect x="603.77" y="451.0" width="5.6" height="4.3" fill="#ffcdd2"/><rect x="610.39" y="451.0" width="5.6" height="4.3" fill="#ff5252"/><rect x="617.01" y="451.0" width="5.6" height="7.2" fill="#ff5252"/><rect x="623.63" y="451.0" width="5.6" height="7.7" fill="#ff5252"/><rect x="630.25" y="451.0" width="5.6" height="7.7" fill="#ff5252"/><rect x="636.86" y="451.0" width="5.6" height="8.4" fill="#ff5252"/><rect x="643.48" y="451.0" width="5.6" height="10.0" fill="#ff5252"/><rect x="650.10" y="451.0" width="5.6" height="11.1" fill="#ff5252"/><rect x="656.72" y="451.0" width="5.6" height="11.8" fill="#ff5252"/><rect x="663.33" y="451.0" width="5.6" height="10.6" fill="#ffcdd2"/><rect x="669.95" y="451.0" width="5.6" height="9.3" fill="#ffcdd2"/><rect x="676.57" y="451.0" width="5.6" height="8.9" fill="#ffcdd2"/><rect x="683.19" y="451.0" width="5.6" height="8.1" fill="#ffcdd2"/><rect x="689.80" y="451.0" width="5.6" height="8.5" fill="#ff5252"/><rect x="696.42" y="451.0" width="5.6" height="6.7" fill="#ffcdd2"/><rect x="703.04" y="451.0" width="5.6" height="4.6" fill="#ffcdd2"/><rect x="709.65" y="451.0" width="5.6" height="2.9" fill="#ffcdd2"/><rect x="716.27" y="450.1" width="5.6" height="0.9" fill="#26a69a"/><rect x="722.89" y="447.9" width="5.6" height="3.1" fill="#26a69a"/><rect x="729.51" y="446.2" width="5.6" height="4.8" fill="#26a69a"/><rect x="736.12" y="446.5" width="5.6" height="4.5" fill="#b2dfdb"/><rect x="742.74" y="445.3" width="5.6" height="5.7" fill="#26a69a"/><rect x="749.36" y="445.3" width="5.6" height="5.7" fill="#26a69a"/><rect x="755.98" y="446.2" width="5.6" height="4.8" fill="#b2dfdb"/><rect x="762.60" y="447.1" width="5.6" height="3.9" fill="#b2dfdb"/><rect x="769.21" y="446.2" width="5.6" height="4.8" fill="#26a69a"/><rect x="775.83" y="447.1" width="5.6" height="3.9" fill="#b2dfdb"/><rect x="782.45" y="446.2" width="5.6" height="4.8" fill="#26a69a"/><rect x="789.07" y="444.5" width="5.6" height="6.5" fill="#26a69a"/><rect x="795.68" y="443.6" width="5.6" height="7.4" fill="#26a69a"/><rect x="802.30" y="443.8" width="5.6" height="7.2" fill="#b2dfdb"/><rect x="808.92" y="444.5" width="5.6" height="6.5" fill="#b2dfdb"/><rect x="815.53" y="444.5" width="5.6" height="6.5" fill="#b2dfdb"/><rect x="822.15" y="446.2" width="5.6" height="4.8" fill="#b2dfdb"/><rect x="828.77" y="447.1" width="5.6" height="3.9" fill="#b2dfdb"/><rect x="835.39" y="447.9" width="5.6" height="3.1" fill="#b2dfdb"/><rect x="842.00" y="448.4" width="5.6" height="2.6" fill="#b2dfdb"/><rect x="848.62" y="449.6" width="5.6" height="1.4" fill="#b2dfdb"/><rect x="855.24" y="450.5" width="5.6" height="0.5" fill="#b2dfdb"/><rect x="861.86" y="449.3" width="5.6" height="1.7" fill="#26a69a"/><rect x="868.48" y="449.3" width="5.6" height="1.7" fill="#26a69a"/><rect x="875.09" y="449.6" width="5.6" height="1.4" fill="#b2dfdb"/><rect x="881.71" y="450.8" width="5.6" height="0.2" fill="#b2dfdb"/><rect x="888.33" y="450.5" width="5.6" height="0.5" fill="#26a69a"/><rect x="894.95" y="449.6" width="5.6" height="1.4" fill="#26a69a"/><rect x="901.56" y="449.6" width="5.6" height="1.4" fill="#26a69a"/><rect x="908.18" y="449.6" width="5.6" height="1.4" fill="#26a69a"/><rect x="914.80" y="448.8" width="5.6" height="2.2" fill="#26a69a"/><rect x="921.41" y="449.6" width="5.6" height="1.4" fill="#b2dfdb"/><rect x="928.03" y="449.6" width="5.6" height="1.4" fill="#b2dfdb"/><rect x="934.65" y="449.6" width="5.6" height="1.4" fill="#26a69a"/><rect x="941.27" y="448.8" width="5.6" height="2.2" fill="#26a69a"/><rect x="947.88" y="449.6" width="5.6" height="1.4" fill="#b2dfdb"/><rect x="954.50" y="450.5" width="5.6" height="0.5" fill="#b2dfdb"/><rect x="961.12" y="450.7" width="5.6" height="0.3" fill="#b2dfdb"/><rect x="967.74" y="450.7" width="5.6" height="0.3" fill="#b2dfdb"/><rect x="974.36" y="450.7" width="5.6" height="0.3" fill="#b2dfdb"/><rect x="980.97" y="450.5" width="5.6" height="0.5" fill="#b2dfdb"/><rect x="987.59" y="450.7" width="5.6" height="0.3" fill="#b2dfdb"/><rect x="994.21" y="451.0" width="5.6" height="0.8" fill="#ffcdd2"/><rect x="1000.83" y="451.0" width="5.6" height="0.8" fill="#ffcdd2"/><rect x="1007.44" y="450.7" width="5.6" height="0.3" fill="#b2dfdb"/><rect x="1014.06" y="450.5" width="5.6" height="0.5" fill="#b2dfdb"/><rect x="1020.68" y="450.5" width="5.6" height="0.5" fill="#b2dfdb"/><rect x="1027.29" y="450.5" width="5.6" height="0.5" fill="#b2dfdb"/><rect x="1033.91" y="450.7" width="5.6" height="0.3" fill="#b2dfdb"/><rect x="1040.53" y="450.7" width="5.6" height="0.3" fill="#b2dfdb"/><rect x="1047.15" y="450.5" width="5.6" height="0.5" fill="#b2dfdb"/><rect x="1053.77" y="450.7" width="5.6" height="0.3" fill="#b2dfdb"/><rect x="1060.38" y="451.0" width="5.6" height="0.8" fill="#ffcdd2"/><rect x="1067.00" y="450.5" width="5.6" height="0.5" fill="#b2dfdb"/><rect x="1073.62" y="450.5" width="5.6" height="0.5" fill="#b2dfdb"/><rect x="1080.23" y="450.5" width="5.6" height="0.5" fill="#b2dfdb"/><rect x="1086.85" y="450.5" width="5.6" height="0.5" fill="#b2dfdb"/><rect x="1093.47" y="450.5" width="5.6" height="0.5" fill="#b2dfdb"/><rect x="1100.09" y="450.1" width="5.6" height="0.9" fill="#26a69a"/><rect x="1106.70" y="451.0" width="5.6" height="0.9" fill="#ffcdd2"/><rect x="1113.32" y="451.0" width="5.6" height="1.4" fill="#ff5252"/><rect x="1119.94" y="451.0" width="5.6" height="1.4" fill="#ff5252"/><rect x="1126.56" y="451.0" width="5.6" height="3.4" fill="#ff5252"/><rect x="1133.17" y="451.0" width="5.6" height="3.7" fill="#ff5252"/><rect x="1139.79" y="451.0" width="5.6" height="3.7" fill="#ff5252"/><rect x="1146.41" y="451.0" width="5.6" height="3.4" fill="#ffcdd2"/><rect x="1153.03" y="451.0" width="5.6" height="3.4" fill="#ffcdd2"/><rect x="1159.64" y="451.0" width="5.6" height="3.7" fill="#ff5252"/><rect x="1166.26" y="451.0" width="5.6" height="3.4" fill="#ffcdd2"/><rect x="1172.88" y="451.0" width="5.6" height="2.7" fill="#ffcdd2"/><rect x="1179.50" y="451.0" width="5.6" height="1.4" fill="#ffcdd2"/><rect x="1186.12" y="451.0" width="5.6" height="1.4" fill="#ffcdd2"/><rect x="1192.73" y="450.6" width="5.6" height="0.4" fill="#b2dfdb"/><rect x="1199.35" y="450.1" width="5.6" height="0.9" fill="#26a69a"/><rect x="1205.97" y="449.0" width="5.6" height="2.0" fill="#26a69a"/><rect x="1212.59" y="447.9" width="5.6" height="3.1" fill="#26a69a"/><rect x="1219.20" y="447.3" width="5.6" height="3.7" fill="#26a69a"/><rect x="1225.82" y="447.3" width="5.6" height="3.7" fill="#26a69a"/><rect x="1232.44" y="447.9" width="5.6" height="3.1" fill="#b2dfdb"/><rect x="1239.06" y="447.9" width="5.6" height="3.1" fill="#b2dfdb"/><rect x="1245.67" y="447.9" width="5.6" height="3.1" fill="#b2dfdb"/><rect x="1252.29" y="447.3" width="5.6" height="3.7" fill="#26a69a"/><rect x="1258.91" y="447.6" width="5.6" height="3.4" fill="#b2dfdb"/><rect x="1265.53" y="448.7" width="5.6" height="2.3" fill="#b2dfdb"/><path d="M11.0,450.7 C21.9,450.7 62.8,451.1 76.6,450.7 C90.4,450.3 86.3,449.2 93.7,448.1 C101.1,447.0 112.1,446.1 121.2,444.1 C130.3,442.2 141.8,438.0 148.6,436.4 C155.4,434.8 158.6,435.3 162.3,434.7 C166.0,434.1 166.6,432.5 170.9,432.7 C175.2,432.9 182.3,436.2 188.0,436.0 C193.7,435.8 199.2,432.5 205.2,431.6 C211.2,430.7 218.9,431.6 224.0,430.4 C229.1,429.2 233.1,426.9 236.0,424.4 C238.9,421.9 239.4,418.5 241.5,415.5 C243.6,412.5 245.4,409.0 248.6,406.4 C251.8,403.8 257.2,401.6 260.6,399.6 C264.0,397.6 264.8,394.7 269.1,394.4 C273.4,394.1 280.0,395.8 286.3,397.9 C292.6,400.0 297.8,405.0 306.9,407.3 C316.0,409.6 333.2,411.8 341.2,411.6 C349.2,411.4 348.3,406.6 354.9,405.9 C361.5,405.2 373.8,405.5 380.6,407.3 C387.5,409.1 390.3,413.8 396.0,416.7 C401.7,419.6 408.7,422.2 415.0,424.6 C421.3,427.0 428.8,429.3 434.0,431.0 C439.2,432.7 441.4,432.8 446.0,434.7 C450.6,436.6 456.5,440.3 461.4,442.4 C466.2,444.5 468.8,446.0 475.1,447.1 C481.4,448.2 493.4,448.9 499.1,448.8 C504.8,448.7 504.2,446.9 509.4,446.7 C514.5,446.5 521.4,446.9 530.0,447.6 C538.6,448.3 551.8,449.3 560.9,451.0 C570.0,452.7 577.5,456.5 584.9,457.9 C592.3,459.2 599.1,457.8 605.4,459.1 C611.7,460.4 616.8,463.5 622.6,465.6 C628.4,467.7 635.7,469.6 640.0,471.6 C644.3,473.6 645.2,475.7 648.6,477.6 C652.0,479.5 654.6,481.5 660.6,483.1 C666.6,484.7 678.9,485.9 684.6,487.0 C690.3,488.1 690.0,489.6 694.9,489.6 C699.8,489.6 707.4,489.0 713.7,487.0 C720.0,485.0 726.0,480.0 732.6,477.6 C739.2,475.2 745.7,474.0 753.1,472.8 C760.5,471.6 770.8,471.6 777.1,470.2 C783.4,468.8 786.3,466.3 790.9,464.7 C795.5,463.1 798.9,461.4 804.6,460.4 C810.3,459.3 816.6,458.6 825.2,458.4 C833.8,458.2 848.3,459.3 856.0,459.1 C863.7,458.9 866.2,457.5 871.4,457.3 C876.6,457.1 880.2,458.5 887.1,457.9 C894.0,457.3 903.5,454.7 912.9,453.6 C922.3,452.5 936.0,451.6 943.7,451.5 C951.4,451.4 950.2,452.8 959.1,453.2 C968.0,453.6 980.3,453.6 996.9,453.6 C1013.5,453.6 1041.4,453.5 1058.6,453.2 C1075.8,452.9 1089.7,451.7 1100.0,451.9 C1110.3,452.1 1114.1,453.4 1120.4,454.4 C1126.7,455.4 1130.8,456.7 1138.0,457.8 C1145.2,458.9 1155.4,460.7 1163.8,461.1 C1172.2,461.6 1180.7,461.2 1188.2,460.5 C1195.7,459.8 1202.3,458.4 1208.6,457.1 C1214.9,455.9 1219.0,454.1 1226.2,453.0 C1233.4,451.9 1245.0,451.2 1252.0,450.6 C1259.0,450.0 1265.6,449.8 1268.3,449.6" fill="none" stroke="#2962ff" stroke-width="1.2" stroke-linejoin="round"/><path d="M11.0,450.7 C22.5,450.7 60.5,451.4 80.0,450.7 C99.5,450.0 112.0,448.9 128.0,446.7 C144.0,444.5 164.6,439.2 176.0,437.3 C187.4,435.4 186.9,436.0 196.6,435.0 C206.3,434.0 224.5,434.1 234.3,431.3 C244.1,428.5 248.5,422.4 255.4,418.4 C262.4,414.4 270.0,409.7 276.0,407.3 C282.0,404.9 285.1,404.5 291.4,404.2 C297.7,403.9 304.8,405.0 313.7,405.6 C322.6,406.2 333.5,407.8 344.6,408.1 C355.8,408.4 371.5,406.9 380.6,407.3 C389.7,407.7 394.5,409.7 399.4,410.7 C404.3,411.7 401.4,410.6 410.0,413.3 C418.6,416.0 439.7,422.9 451.1,427.0 C462.5,431.1 470.6,435.4 478.6,438.1 C486.6,440.8 490.5,442.0 499.1,443.3 C507.7,444.6 519.1,445.0 530.0,445.9 C540.9,446.8 554.0,447.1 564.3,448.4 C574.6,449.7 583.1,452.0 591.7,453.6 C600.3,455.2 607.7,456.2 615.7,457.9 C623.8,459.6 631.7,461.0 640.0,463.9 C648.3,466.8 657.1,471.9 665.7,475.0 C674.3,478.1 683.4,481.0 691.4,482.7 C699.4,484.4 705.1,485.7 713.7,485.3 C722.3,484.9 731.5,482.1 742.9,480.1 C754.3,478.1 771.4,475.6 782.3,473.3 C793.1,471.0 800.3,468.3 808.0,466.4 C815.7,464.5 822.3,462.9 828.6,461.8 C834.9,460.8 838.0,460.5 845.7,460.1 C853.4,459.7 863.8,460.1 875.0,459.3 C886.2,458.5 899.4,456.3 912.9,455.3 C926.4,454.3 924.5,453.5 955.7,453.2 C986.9,452.9 1071.4,453.1 1100.0,453.3 C1128.6,453.5 1115.8,453.5 1127.1,454.4 C1138.4,455.2 1156.6,457.6 1167.9,458.4 C1179.2,459.2 1186.0,459.6 1195.0,459.1 C1204.0,458.7 1209.9,456.9 1222.1,455.7 C1234.3,454.4 1260.6,452.3 1268.3,451.6" fill="none" stroke="#ff6d00" stroke-width="1.2" stroke-linejoin="round"/><line x1="11" y1="539.5" x2="1278" y2="539.5" stroke="#8c8f98" stroke-width="1.2" stroke-dasharray="4 4"/><line x1="11" y1="566" x2="1278" y2="566" stroke="#c9cbd1" stroke-width="1.2" stroke-dasharray="4 4"/><line x1="11" y1="593" x2="1278" y2="593" stroke="#a3a6ae" stroke-width="1.2" stroke-dasharray="4 4"/><polyline points="11.0,558.8 17.6,553.0 24.2,561.0 30.9,566.7 37.5,561.9 44.1,569.3 50.7,564.5 57.3,565.8 63.9,554.7 70.6,559.8 77.2,560.2 83.8,549.0 90.4,533.5 97.0,542.1 103.6,531.3 110.3,534.0 116.9,527.5 123.5,526.6 130.1,518.1 136.7,518.1 143.3,514.1 150.0,512.9 156.6,527.8 163.2,525.4 169.8,519.8 176.4,543.8 183.1,553.0 189.7,553.0 196.3,539.2 202.9,535.2 209.5,537.0 216.1,540.4 222.8,536.4 229.4,528.4 236.0,521.5 242.6,512.6 249.2,520.6 255.8,530.1 262.5,527.2 269.1,526.3 275.7,528.4 282.3,550.4 288.9,549.0 295.6,546.9 302.2,544.4 308.8,549.9 315.4,546.4 322.0,543.0 328.6,544.7 335.3,543.8 341.9,543.0 348.5,532.1 355.1,537.5 361.7,541.3 368.3,542.1 375.0,539.5 381.6,540.7 388.2,547.3 394.8,555.4 401.4,557.6 408.0,556.4 414.7,561.0 421.3,554.7 427.9,558.4 434.5,560.2 441.1,558.4 447.8,562.7 454.4,570.1 461.0,574.3 467.6,569.3 474.2,573.9 480.8,567.9 487.5,564.5 494.1,563.6 500.7,565.3 507.3,556.2 513.9,561.0 520.5,564.5 527.2,563.6 533.8,567.6 540.4,566.7 547.0,568.8 553.6,569.6 560.3,567.0 566.9,574.8 573.5,582.2 580.1,575.3 586.7,581.7 593.3,575.6 600.0,575.6 606.6,574.3 613.2,583.4 619.8,592.5 626.4,590.3 633.0,592.5 639.7,593.7 646.3,602.3 652.9,601.8 659.5,604.0 666.1,600.1 672.8,600.6 679.4,602.3 686.0,602.8 692.6,608.3 699.2,597.1 705.8,589.7 712.5,592.5 719.1,573.6 725.7,575.3 732.3,575.3 738.9,581.7 745.5,575.3 752.2,575.3 758.8,581.7 765.4,581.1 772.0,577.4 778.6,581.1 785.2,572.2 791.9,562.2 798.5,565.0 805.1,566.7 811.7,570.5 818.3,566.2 825.0,570.8 831.6,571.9 838.2,573.1 844.8,573.9 851.4,575.6 858.0,579.9 864.7,568.4 871.3,569.1 877.9,572.2 884.5,574.8 891.1,570.5 897.7,568.8 904.4,565.7 911.0,567.9 917.6,565.0 924.2,568.8 930.8,567.6 937.4,565.3 944.1,563.1 950.7,568.8 957.3,574.4 963.9,572.5 970.5,570.5 977.2,571.3 983.8,569.1 990.4,571.9 997.0,574.8 1003.6,573.6 1010.2,572.5 1016.9,568.4 1023.5,570.1 1030.1,569.6 1036.7,571.9 1043.3,573.9 1049.9,571.9 1056.6,573.6 1063.2,577.0 1069.8,572.5 1076.4,573.1 1083.0,573.9 1089.7,570.5 1096.3,567.6 1102.9,565.8 1109.5,583.9 1116.1,582.2 1122.7,587.7 1129.4,598.0 1136.0,601.4 1142.6,598.3 1149.2,598.8 1155.8,597.1 1162.4,604.7 1169.1,590.7 1175.7,583.9 1182.3,588.0 1188.9,588.5 1195.5,568.4 1202.1,572.2 1208.8,567.9 1215.4,557.6 1222.0,558.1 1228.6,557.6 1235.2,564.0 1241.9,561.0 1248.5,558.1 1255.1,555.0 1261.7,558.4 1268.3,559.3" fill="none" stroke="#7e57c2" stroke-opacity="0.92" stroke-width="1.25" stroke-linejoin="round"/><path d="M1283,277.7 H1373.8 a2,2 0 0 1 2,2 V303.1 a2,2 0 0 1 -2,2 H1283 Z" fill="#00bcd4"/><g fill="#131722" transform="translate(10,675)"><path d="M0.1,0.2 H7.6 V9.6 H4 V4.2 H0.1 Z"/><circle cx="11.1" cy="2.2" r="2"/><path d="M14.2,0.2 H19.8 L16.4,9.6 H11 Z"/></g><ellipse cx="206.1" cy="517.3" rx="2.5" ry="3.7" fill="none" stroke="#2a2e39" stroke-width="1.2"/><line x1="203.9" y1="521.8" x2="208.5" y2="512.6" stroke="#2a2e39" stroke-width="1"/><ellipse cx="221.2" cy="517.3" rx="2.5" ry="3.7" fill="none" stroke="#2a2e39" stroke-width="1.2"/><line x1="219.0" y1="521.8" x2="223.6" y2="512.6" stroke="#2a2e39" stroke-width="1"/></svg>
<div id="tx"><div style="position:absolute;left:10.2px;top:9.6px;font-size:12.3px;color:#4c4f59;font-weight:normal;white-space:nowrap;line-height:1;transform:scaleX(0.958);transform-origin:0 0">crispus9 published on TradingView.com, Nov 24, 2022 11:43 UTC+3</div><div style="position:absolute;left:18.6px;top:37px;font-size:11.6px;color:#4a4d57;font-weight:normal;white-space:nowrap;line-height:1;">Dogecoin / United States Dollar, 4h, COINBASE</div><div style="position:absolute;left:274.6px;top:37px;font-size:11.6px;color:#4a4d57;font-weight:normal;white-space:nowrap;line-height:1;">O</div><div style="position:absolute;left:282.9px;top:37px;font-size:11.6px;color:#f23645;font-weight:normal;white-space:nowrap;line-height:1;">0.08198</div><div style="position:absolute;left:332.1px;top:37px;font-size:11.6px;color:#4a4d57;font-weight:normal;white-space:nowrap;line-height:1;">H</div><div style="position:absolute;left:339.7px;top:37px;font-size:11.6px;color:#f23645;font-weight:normal;white-space:nowrap;line-height:1;">0.08214</div><div style="position:absolute;left:389.4px;top:37px;font-size:11.6px;color:#4a4d57;font-weight:normal;white-space:nowrap;line-height:1;">L</div><div style="position:absolute;left:395.6px;top:37px;font-size:11.6px;color:#f23645;font-weight:normal;white-space:nowrap;line-height:1;">0.08141</div><div style="position:absolute;left:444px;top:37px;font-size:11.6px;color:#4a4d57;font-weight:normal;white-space:nowrap;line-height:1;">C</div><div style="position:absolute;left:451.8px;top:37px;font-size:11.6px;color:#f23645;font-weight:normal;white-space:nowrap;line-height:1;">0.08184</div><div style="position:absolute;left:500.4px;top:37px;font-size:11.6px;color:#4a4d57;font-weight:normal;white-space:nowrap;line-height:1;">Vol</div><div style="position:absolute;left:516.7px;top:37px;font-size:11.6px;color:#f23645;font-weight:normal;white-space:nowrap;line-height:1;">7.532M</div><div style="position:absolute;left:18.6px;top:54px;font-size:11.6px;color:#4a4d57;font-weight:normal;white-space:nowrap;line-height:1;">EMA (25, close, 0, SMA, 5)</div><div style="position:absolute;left:165.4px;top:54px;font-size:11.6px;color:#2962ff;font-weight:normal;white-space:nowrap;line-height:1;">0.08037</div><div style="position:absolute;left:18.3px;top:392px;font-size:11.6px;color:#4a4d57;font-weight:normal;white-space:nowrap;line-height:1;">MACD (12, 26, close, 9, EMA, EMA)</div><div style="position:absolute;left:210.5px;top:392px;font-size:11.6px;color:#b2dfdb;font-weight:normal;white-space:nowrap;line-height:1;">0.00073</div><div style="position:absolute;left:260.2px;top:392px;font-size:11.6px;color:#2962ff;font-weight:normal;white-space:nowrap;line-height:1;">0.00034</div><div style="position:absolute;left:309.4px;top:392px;font-size:11.6px;color:#ff6d00;font-weight:normal;white-space:nowrap;line-height:1;">−0.00039</div><div style="position:absolute;left:18.7px;top:510.5px;font-size:11.6px;color:#4a4d57;font-weight:normal;white-space:nowrap;line-height:1;">RSI (14, close, SMA, 14, 2)</div><div style="position:absolute;left:166.2px;top:510.5px;font-size:11.6px;color:#7e57c2;font-weight:normal;white-space:nowrap;line-height:1;">54.85</div><div style="position:absolute;left:1296.5px;top:133.5px;font-size:20px;color:#131722;white-space:nowrap;line-height:1">0.12000</div><div style="position:absolute;left:1296.5px;top:187.0px;font-size:20px;color:#131722;white-space:nowrap;line-height:1">0.10000</div><div style="position:absolute;left:1296.5px;top:251.7px;font-size:20px;color:#131722;white-space:nowrap;line-height:1">0.08000</div><div style="position:absolute;left:1296.5px;top:312.0px;font-size:20px;color:#131722;white-space:nowrap;line-height:1">0.06500</div><div style="position:absolute;left:1296.5px;top:281.4px;font-size:20px;color:#000;white-space:nowrap;line-height:1">0.07229</div><div style="position:absolute;left:1296.5px;top:441.0px;font-size:20px;color:#131722;white-space:nowrap;line-height:1">0.00000</div><div style="position:absolute;left:1296.5px;top:516.3px;font-size:20px;color:#131722;white-space:nowrap;line-height:1">80.00</div><div style="position:absolute;left:1296.5px;top:569.4px;font-size:20px;color:#131722;white-space:nowrap;line-height:1">40.00</div><div style="position:absolute;left:1296.5px;top:49.6px;font-size:20px;color:#131722;font-weight:normal;white-space:nowrap;line-height:1;">0.16000</div><div style="position:absolute;left:1283px;top:29px;width:106px;height:29.6px;background:#fff"></div><div style="position:absolute;left:1293px;top:34.5px;font-size:18.5px;color:#131722;font-weight:normal;white-space:nowrap;line-height:1;transform:scaleX(0.86);transform-origin:0 0">USD</div><div style="position:absolute;left:-76.3px;width:200px;text-align:center;top:628.8px;font-size:19.5px;color:#131722;font-weight:normal;white-space:nowrap;line-height:1">24</div><div style="position:absolute;left:82.6px;width:200px;text-align:center;top:628.8px;font-size:19.5px;color:#131722;font-weight:normal;white-space:nowrap;line-height:1">28</div><div style="position:absolute;left:242px;width:200px;text-align:center;top:628.8px;font-size:19.5px;color:#131722;font-weight:bold;white-space:nowrap;line-height:1">Nov</div><div style="position:absolute;left:480.4px;width:200px;text-align:center;top:628.8px;font-size:19.5px;color:#131722;font-weight:normal;white-space:nowrap;line-height:1">7</div><div style="position:absolute;left:619.1px;width:200px;text-align:center;top:628.8px;font-size:19.5px;color:#131722;font-weight:normal;white-space:nowrap;line-height:1">15:00</div><div style="position:absolute;left:758.2px;width:200px;text-align:center;top:628.8px;font-size:19.5px;color:#131722;font-weight:normal;white-space:nowrap;line-height:1">14</div><div style="position:absolute;left:897px;width:200px;text-align:center;top:628.8px;font-size:19.5px;color:#131722;font-weight:normal;white-space:nowrap;line-height:1">15:00</div><div style="position:absolute;left:1035.5px;width:200px;text-align:center;top:628.8px;font-size:19.5px;color:#131722;font-weight:normal;white-space:nowrap;line-height:1">21</div><div style="position:absolute;left:1240px;top:620px;width:42.5px;height:40px;overflow:hidden"><div style="position:absolute;left:11.4px;top:8.8px;font-size:19.5px;color:#131722;line-height:1;white-space:nowrap">15:00</div></div><div style="position:absolute;left:33.7px;top:674.3px;font-size:12.5px;color:#5d606b;font-weight:normal;white-space:nowrap;line-height:1;">TradingView</div></div>
</body></html>
